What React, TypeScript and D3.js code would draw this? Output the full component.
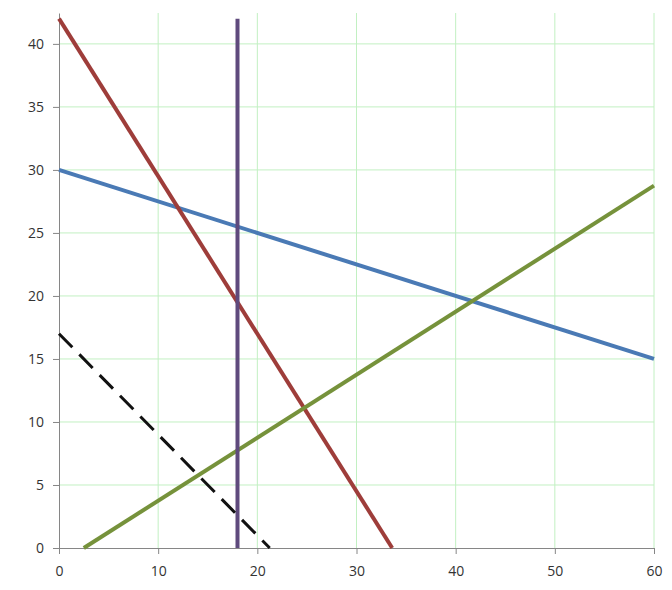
import { useEffect, useRef } from 'react'
import * as d3 from 'd3'

const MARGIN = { top: 13, right: 18, bottom: 42, left: 59 }
const WIDTH = 672
const HEIGHT = 590

const X_TICKS = [0, 10, 20, 30, 40, 50, 60]
const Y_TICKS = [0, 5, 10, 15, 20, 25, 30, 35, 40]

type Pt = { x: number; y: number }

const BLUE_LINE: Pt[] = [{ x: 0, y: 30 }, { x: 60, y: 15 }]
const RED_LINE: Pt[] = [{ x: 0, y: 42 }, { x: 33.6, y: 0 }]
const GREEN_LINE: Pt[] = [{ x: 2.5, y: 0 }, { x: 60, y: 28.75 }]
const PURPLE_LINE: Pt[] = [{ x: 18, y: 0 }, { x: 18, y: 42 }]
const DASHED_LINE: Pt[] = [{ x: 0, y: 17 }, { x: 21.25, y: 0 }]

const SERIES = [
  { data: BLUE_LINE, color: '#4a7ab5', width: 4, dash: null },
  { data: RED_LINE, color: '#9e3d3a', width: 4, dash: null },
  { data: GREEN_LINE, color: '#76923b', width: 4, dash: null },
  { data: PURPLE_LINE, color: '#5f4a7d', width: 4, dash: null },
  { data: DASHED_LINE, color: '#111111', width: 3, dash: '19,10' },
]

export default function App() {
  const svgRef = useRef<SVGSVGElement>(null)

  useEffect(() => {
    const svgEl = svgRef.current
    if (!svgEl) return
    document.body.style.margin = '0'

    const innerWidth = WIDTH - MARGIN.left - MARGIN.right
    const innerHeight = HEIGHT - MARGIN.top - MARGIN.bottom

    const svg = d3.select(svgEl)
    svg.selectAll('*').remove()
    svg.append('rect').attr('width', WIDTH).attr('height', HEIGHT).attr('fill', '#ffffff')

    const g = svg.append('g').attr('transform', `translate(${MARGIN.left},${MARGIN.top})`)

    const x = d3.scaleLinear([0, 60], [0, innerWidth])
    const y = d3.scaleLinear([0, 42.45], [innerHeight, 0])

    // ── Grid ──
    g.append('g')
      .selectAll('line')
      .data(Y_TICKS.filter(d => d > 0))
      .join('line')
      .attr('x1', 0).attr('x2', innerWidth)
      .attr('y1', d => y(d)).attr('y2', d => y(d))
      .attr('stroke', '#c2f0c2').attr('stroke-width', 1)

    g.append('g')
      .selectAll('line')
      .data(X_TICKS.filter(d => d > 0))
      .join('line')
      .attr('x1', d => x(d)).attr('x2', d => x(d))
      .attr('y1', 0).attr('y2', innerHeight)
      .attr('stroke', '#c2f0c2').attr('stroke-width', 1)

    // ── Axes ──
    const font = '"Open Sans", "DejaVu Sans", sans-serif'
    g.append('g')
      .attr('transform', `translate(0,${innerHeight})`)
      .call(d3.axisBottom(x).tickValues(X_TICKS).tickSize(6).tickPadding(12).tickSizeOuter(0))
      .call(ag => ag.select('.domain').attr('stroke', '#868686'))
      .call(ag => ag.selectAll('.tick line').attr('stroke', '#868686'))
      .call(ag => ag.selectAll('text').attr('fill', '#333').attr('font-size', 14).attr('font-family', font))

    g.append('g')
      .call(d3.axisLeft(y).tickValues(Y_TICKS).tickSize(6).tickPadding(9).tickSizeOuter(0))
      .call(ag => ag.select('.domain').attr('stroke', '#868686'))
      .call(ag => ag.selectAll('.tick line').attr('stroke', '#868686'))
      .call(ag => ag.selectAll('text').attr('fill', '#333').attr('font-size', 14).attr('font-family', font))

    // ── Lines ──
    const line = d3.line<Pt>().x(d => x(d.x)).y(d => y(d.y))
    SERIES.forEach(s => {
      g.append('path')
        .datum(s.data)
        .attr('d', line)
        .attr('fill', 'none')
        .attr('stroke', s.color)
        .attr('stroke-width', s.width)
        .attr('stroke-dasharray', s.dash)
    })
  }, [])

  return (
    <svg
      ref={svgRef}
      width={WIDTH}
      height={HEIGHT}
      style={{ position: 'absolute', left: 0, top: 0 }}
    />
  )
}
